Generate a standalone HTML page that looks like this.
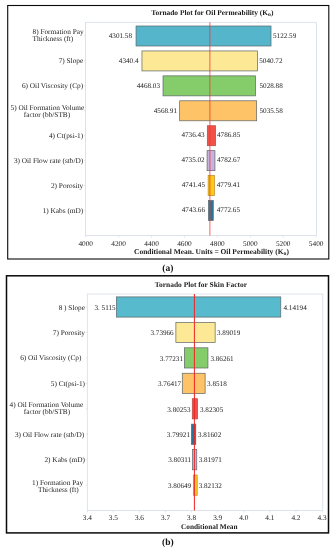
<!DOCTYPE html>
<html><head><meta charset="utf-8"><title>Tornado Plots</title>
<style>
html,body{margin:0;padding:0;background:#fff;}
body{width:335px;height:550px;overflow:hidden;}
svg{display:block;text-rendering:geometricPrecision;font-family:"Liberation Serif","DejaVu Serif",serif;}
.t{font-size:7.3px;fill:#1c1c1c;}
.b{font-weight:bold;fill:#1c1c1c;}
</style></head><body>
<svg width="335" height="550" viewBox="0 0 335 550">
<rect x="0" y="0" width="335" height="550" fill="#ffffff"/>

<rect x="7.7" y="5.5" width="321.1" height="253.5" fill="#fff" stroke="#0a0a0a" stroke-width="1.1"/>
<rect x="85.5" y="22.3" width="231.0" height="213.2" fill="#fff" stroke="#d6dde6" stroke-width="0.8"/>
<text class="b" x="212.3" y="15.1" text-anchor="middle" font-size="7.4">Tornado Plot for Oil Permeability (K<tspan font-size="5.8" dy="1.3">o</tspan><tspan dy="-1.3">)</tspan></text>
<line x1="85.70" y1="235.5" x2="85.70" y2="237.5" stroke="#d6dde6" stroke-width="0.7"/>
<text class="t" x="85.70" y="246" text-anchor="middle">4000</text>
<line x1="118.62" y1="235.5" x2="118.62" y2="237.5" stroke="#d6dde6" stroke-width="0.7"/>
<text class="t" x="118.62" y="246" text-anchor="middle">4200</text>
<line x1="151.54" y1="235.5" x2="151.54" y2="237.5" stroke="#d6dde6" stroke-width="0.7"/>
<text class="t" x="151.54" y="246" text-anchor="middle">4400</text>
<line x1="184.46" y1="235.5" x2="184.46" y2="237.5" stroke="#d6dde6" stroke-width="0.7"/>
<text class="t" x="184.46" y="246" text-anchor="middle">4600</text>
<line x1="217.38" y1="235.5" x2="217.38" y2="237.5" stroke="#d6dde6" stroke-width="0.7"/>
<text class="t" x="217.38" y="246" text-anchor="middle">4800</text>
<line x1="250.30" y1="235.5" x2="250.30" y2="237.5" stroke="#d6dde6" stroke-width="0.7"/>
<text class="t" x="250.30" y="246" text-anchor="middle">5000</text>
<line x1="283.22" y1="235.5" x2="283.22" y2="237.5" stroke="#d6dde6" stroke-width="0.7"/>
<text class="t" x="283.22" y="246" text-anchor="middle">5200</text>
<line x1="316.14" y1="235.5" x2="316.14" y2="237.5" stroke="#d6dde6" stroke-width="0.7"/>
<text class="t" x="316.14" y="246" text-anchor="middle">5400</text>
<text class="b" x="211.5" y="253.9" text-anchor="middle" font-size="7.46">Conditional Mean. Units = Oil Permeability (K<tspan font-size="5.8" dy="1.3">o</tspan><tspan dy="-1.3">)</tspan></text>
<line x1="83.9" y1="36.00" x2="85.5" y2="36.00" stroke="#d6dde6" stroke-width="0.7"/>
<text class="t" x="32.5" y="34.3">8) Formation Pay</text>
<text class="t" x="32.5" y="41.3">Thickness (ft)</text>
<rect x="136.04" y="26.00" width="134.98" height="20.00" fill="#54b5cb" stroke="#5c6468" stroke-width="0.7"/>
<text class="t" x="132.00" y="37.75" text-anchor="end" style="font-size:7.15px">4301.58</text>
<text class="t" x="273.00" y="37.75" style="font-size:7.15px">5122.59</text>
<line x1="83.9" y1="60.93" x2="85.5" y2="60.93" stroke="#d6dde6" stroke-width="0.7"/>
<text class="t" x="83.2" y="63.43" text-anchor="end">7) Slope</text>
<rect x="141.97" y="50.93" width="115.55" height="20.00" fill="#fde995" stroke="#5c6468" stroke-width="0.7"/>
<text class="t" x="138.50" y="62.68" text-anchor="end" style="font-size:7.15px">4340.4</text>
<text class="t" x="259.30" y="62.68" style="font-size:7.15px">5040.72</text>
<line x1="83.9" y1="85.86" x2="85.5" y2="85.86" stroke="#d6dde6" stroke-width="0.7"/>
<text class="t" x="83.2" y="88.36" text-anchor="end">6) Oil Viscosity (Cp)</text>
<rect x="163.02" y="75.86" width="92.54" height="20.00" fill="#84cd6a" stroke="#5c6468" stroke-width="0.7"/>
<text class="t" x="160.00" y="87.61" text-anchor="end" style="font-size:7.15px">4468.03</text>
<text class="t" x="259.50" y="87.61" style="font-size:7.15px">5028.88</text>
<line x1="83.9" y1="110.79" x2="85.5" y2="110.79" stroke="#d6dde6" stroke-width="0.7"/>
<text class="t" x="10.5" y="109.5">5) Oil Formation Volume</text>
<text class="t" x="23.75" y="116.75">factor (bb/STB)</text>
<rect x="179.67" y="100.79" width="77.00" height="20.00" fill="#fdc366" stroke="#5c6468" stroke-width="0.7"/>
<text class="t" x="177.00" y="112.54" text-anchor="end" style="font-size:7.15px">4568.91</text>
<text class="t" x="259.50" y="112.54" style="font-size:7.15px">5035.58</text>
<line x1="83.9" y1="135.72" x2="85.5" y2="135.72" stroke="#d6dde6" stroke-width="0.7"/>
<text class="t" x="83.2" y="138.22" text-anchor="end">4) Ct(psi-1)</text>
<rect x="207.31" y="125.72" width="8.32" height="20.00" fill="#f0524a" stroke="#b04a44" stroke-width="0.7"/>
<text class="t" x="204.70" y="137.47" text-anchor="end" style="font-size:7.15px">4736.43</text>
<text class="t" x="217.00" y="137.47" style="font-size:7.15px">4786.85</text>
<line x1="83.9" y1="160.65" x2="85.5" y2="160.65" stroke="#d6dde6" stroke-width="0.7"/>
<text class="t" x="83.2" y="163.15" text-anchor="end">3) Oil Flow rate (stb/D)</text>
<rect x="207.08" y="150.65" width="7.86" height="20.00" fill="#c6b3de" stroke="#5c6468" stroke-width="0.7"/>
<text class="t" x="204.70" y="162.40" text-anchor="end" style="font-size:7.15px">4735.02</text>
<text class="t" x="217.00" y="162.40" style="font-size:7.15px">4782.67</text>
<line x1="83.9" y1="185.58" x2="85.5" y2="185.58" stroke="#d6dde6" stroke-width="0.7"/>
<text class="t" x="83.2" y="188.08" text-anchor="end">2) Porosity</text>
<rect x="208.14" y="175.58" width="6.26" height="20.00" fill="#ffcc10" stroke="#b8862a" stroke-width="0.7"/>
<text class="t" x="205.00" y="187.33" text-anchor="end" style="font-size:7.15px">4741.45</text>
<text class="t" x="216.80" y="187.33" style="font-size:7.15px">4779.41</text>
<line x1="83.9" y1="210.51" x2="85.5" y2="210.51" stroke="#d6dde6" stroke-width="0.7"/>
<text class="t" x="83.2" y="213.01" text-anchor="end">1) Kabs (mD)</text>
<rect x="208.50" y="200.51" width="4.78" height="20.00" fill="#2a7496" stroke="#5c6468" stroke-width="0.7"/>
<text class="t" x="205.00" y="212.26" text-anchor="end" style="font-size:7.15px">4743.66</text>
<text class="t" x="216.80" y="212.26" style="font-size:7.15px">4772.65</text>
<line x1="209.90" y1="22.3" x2="209.90" y2="235.5" stroke="#ee3535" stroke-opacity="0.78" stroke-width="1"/>
<text class="b" x="167.8" y="271.2" text-anchor="middle" font-size="9.5" style="fill:#111">(a)</text>
<rect x="6.5" y="275.8" width="322.0" height="257.09999999999997" fill="#fff" stroke="#0a0a0a" stroke-width="1.5"/>
<rect x="87.3" y="294" width="235.5" height="216.5" fill="#fff" stroke="#d6dde6" stroke-width="0.8"/>
<text class="b" x="200.9" y="286.5" text-anchor="middle" font-size="7.45">Tornado Plot for Skin Factor</text>
<line x1="87.30" y1="510.5" x2="87.30" y2="512.5" stroke="#d6dde6" stroke-width="0.7"/>
<text class="t" x="87.30" y="519.6" text-anchor="middle">3.4</text>
<line x1="113.38" y1="510.5" x2="113.38" y2="512.5" stroke="#d6dde6" stroke-width="0.7"/>
<text class="t" x="113.38" y="519.6" text-anchor="middle">3.5</text>
<line x1="139.46" y1="510.5" x2="139.46" y2="512.5" stroke="#d6dde6" stroke-width="0.7"/>
<text class="t" x="139.46" y="519.6" text-anchor="middle">3.6</text>
<line x1="165.54" y1="510.5" x2="165.54" y2="512.5" stroke="#d6dde6" stroke-width="0.7"/>
<text class="t" x="165.54" y="519.6" text-anchor="middle">3.7</text>
<line x1="191.62" y1="510.5" x2="191.62" y2="512.5" stroke="#d6dde6" stroke-width="0.7"/>
<text class="t" x="191.62" y="519.6" text-anchor="middle">3.8</text>
<line x1="217.70" y1="510.5" x2="217.70" y2="512.5" stroke="#d6dde6" stroke-width="0.7"/>
<text class="t" x="217.70" y="519.6" text-anchor="middle">3.9</text>
<line x1="243.78" y1="510.5" x2="243.78" y2="512.5" stroke="#d6dde6" stroke-width="0.7"/>
<text class="t" x="243.78" y="519.6" text-anchor="middle">4.0</text>
<line x1="269.86" y1="510.5" x2="269.86" y2="512.5" stroke="#d6dde6" stroke-width="0.7"/>
<text class="t" x="269.86" y="519.6" text-anchor="middle">4.1</text>
<line x1="295.94" y1="510.5" x2="295.94" y2="512.5" stroke="#d6dde6" stroke-width="0.7"/>
<text class="t" x="295.94" y="519.6" text-anchor="middle">4.2</text>
<line x1="322.02" y1="510.5" x2="322.02" y2="512.5" stroke="#d6dde6" stroke-width="0.7"/>
<text class="t" x="322.02" y="519.6" text-anchor="middle">4.3</text>
<text class="b" x="209.3" y="529.1" text-anchor="middle" font-size="7.3">Conditional Mean</text>
<line x1="85.7" y1="307.00" x2="87.3" y2="307.00" stroke="#d6dde6" stroke-width="0.7"/>
<text class="t" x="85.0" y="309.50" text-anchor="end">8 ) Slope</text>
<rect x="116.38" y="296.90" width="164.42" height="20.20" fill="#57bacd" stroke="#5c6468" stroke-width="0.7"/>
<text class="t" x="115.60" y="309.70" text-anchor="end" style="font-size:7.15px">3. 5115</text>
<text class="t" x="283.50" y="309.70" style="font-size:7.15px">4.14194</text>
<line x1="85.7" y1="332.45" x2="87.3" y2="332.45" stroke="#d6dde6" stroke-width="0.7"/>
<text class="t" x="85.0" y="334.95" text-anchor="end">7) Porosity</text>
<rect x="175.88" y="322.35" width="39.26" height="20.20" fill="#fde995" stroke="#5c6468" stroke-width="0.7"/>
<text class="t" x="173.70" y="335.15" text-anchor="end" style="font-size:7.15px">3.73966</text>
<text class="t" x="217.00" y="335.15" style="font-size:7.15px">3.89019</text>
<line x1="85.7" y1="357.90" x2="87.3" y2="357.90" stroke="#d6dde6" stroke-width="0.7"/>
<text class="t" x="81.4" y="360.40" text-anchor="end">6) Oil Viscosity (Cp)</text>
<rect x="184.40" y="347.80" width="23.55" height="20.20" fill="#84cd6a" stroke="#5c6468" stroke-width="0.7"/>
<text class="t" x="183.00" y="360.60" text-anchor="end" style="font-size:7.15px">3.77231</text>
<text class="t" x="210.40" y="360.60" style="font-size:7.15px">3.86261</text>
<line x1="85.7" y1="383.35" x2="87.3" y2="383.35" stroke="#d6dde6" stroke-width="0.7"/>
<text class="t" x="85.0" y="385.85" text-anchor="end">5) Ct(psi-1)</text>
<rect x="182.28" y="373.25" width="22.85" height="20.20" fill="#fdc366" stroke="#5c6468" stroke-width="0.7"/>
<text class="t" x="181.20" y="386.05" text-anchor="end" style="font-size:7.15px">3.76417</text>
<text class="t" x="207.10" y="386.05" style="font-size:7.15px">3.8518</text>
<line x1="85.7" y1="408.80" x2="87.3" y2="408.80" stroke="#d6dde6" stroke-width="0.7"/>
<text class="t" x="9.5" y="406.8">4) Oil Formation Volume</text>
<text class="t" x="23.75" y="414.4">factor (bb/STB)</text>
<rect x="192.28" y="398.70" width="5.35" height="20.20" fill="#f0524a" stroke="#b04a44" stroke-width="0.7"/>
<text class="t" x="190.50" y="411.50" text-anchor="end" style="font-size:7.15px">3.80253</text>
<text class="t" x="200.00" y="411.50" style="font-size:7.15px">3.82305</text>
<line x1="85.7" y1="434.25" x2="87.3" y2="434.25" stroke="#d6dde6" stroke-width="0.7"/>
<text class="t" x="84.2" y="436.75" text-anchor="end">3) Oil Flow rate (stb/D)</text>
<rect x="191.41" y="424.15" width="4.38" height="20.20" fill="#2a7496" stroke="#5c6468" stroke-width="0.7"/>
<text class="t" x="190.00" y="436.95" text-anchor="end" style="font-size:7.15px">3.79921</text>
<text class="t" x="198.00" y="436.95" style="font-size:7.15px">3.81602</text>
<line x1="85.7" y1="459.70" x2="87.3" y2="459.70" stroke="#d6dde6" stroke-width="0.7"/>
<text class="t" x="85.0" y="462.20" text-anchor="end">2) Kabs (mD)</text>
<rect x="192.43" y="449.60" width="4.33" height="20.20" fill="#c6b3de" stroke="#5c6468" stroke-width="0.7"/>
<text class="t" x="191.20" y="462.40" text-anchor="end" style="font-size:7.15px">3.80311</text>
<text class="t" x="198.70" y="462.40" style="font-size:7.15px">3.81971</text>
<line x1="85.7" y1="485.15" x2="87.3" y2="485.15" stroke="#d6dde6" stroke-width="0.7"/>
<text class="t" x="32.0" y="485.1">1) Formation Pay</text>
<text class="t" x="38" y="492.2">Thickness (ft)</text>
<rect x="193.31" y="475.05" width="3.87" height="20.20" fill="#ffcc10" stroke="#b8862a" stroke-width="0.7"/>
<text class="t" x="191.20" y="487.85" text-anchor="end" style="font-size:7.15px">3.80649</text>
<text class="t" x="198.70" y="487.85" style="font-size:7.15px">3.82132</text>
<line x1="194.40" y1="294" x2="194.40" y2="510.5" stroke="#f02424" stroke-opacity="1" stroke-width="1.0"/>
<text class="b" x="167.8" y="545.3" text-anchor="middle" font-size="9.5" style="fill:#111">(b)</text>
</svg></body></html>
